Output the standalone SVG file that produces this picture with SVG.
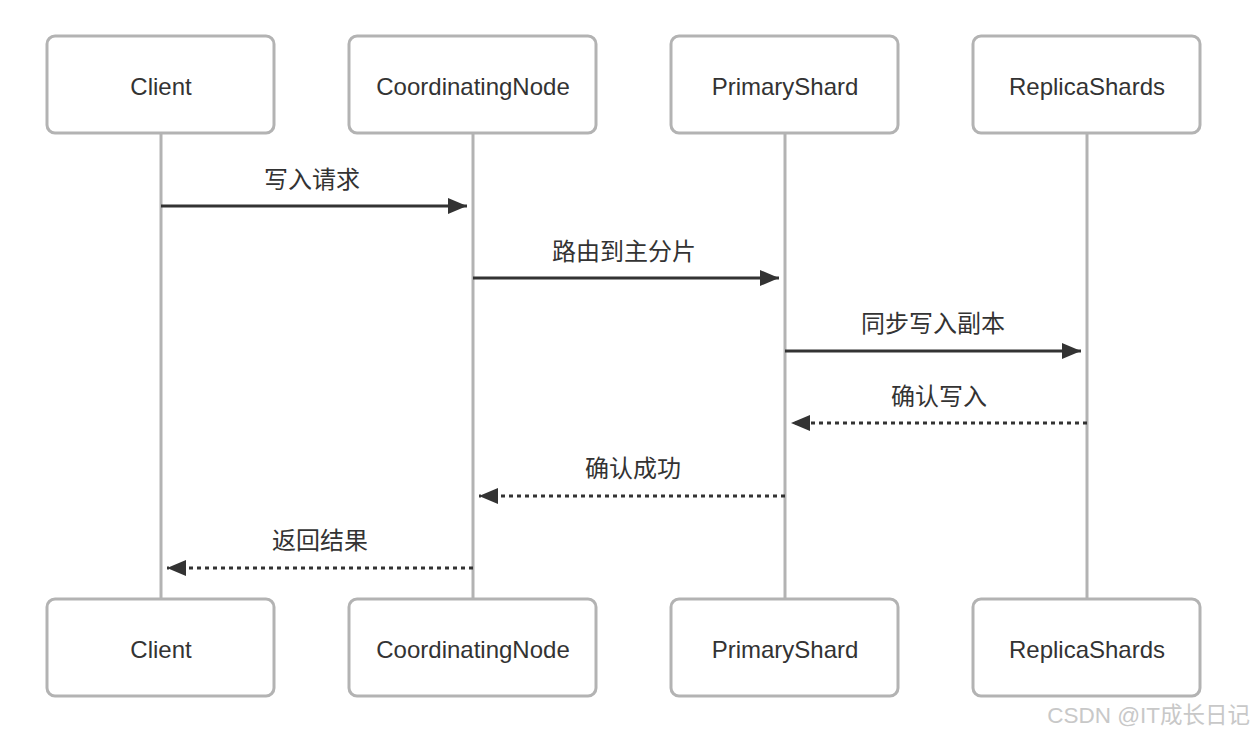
<svg xmlns="http://www.w3.org/2000/svg" width="1256" height="736" viewBox="0 0 1256 736">
<style>
.box{fill:#fff;stroke:#b3b3b3;stroke-width:3}
.life{stroke:#b3b3b3;stroke-width:3}
.lbl{font-family:"Liberation Sans","Noto Sans CJK SC",Arial,sans-serif;font-size:24px;fill:#333;text-anchor:middle;dominant-baseline:central}
.msg{font-family:"Liberation Sans","Noto Sans CJK SC",Arial,sans-serif;font-size:24px;fill:#333;text-anchor:middle}
.solid{stroke:#333;stroke-width:3;fill:none}
.dash{stroke:#333;stroke-width:3;fill:none;stroke-dasharray:4,4}
.wm{font-family:"Liberation Sans","Noto Sans CJK SC",sans-serif;font-size:22.5px;fill:#c8c8c8;text-anchor:end}
</style>
<defs>
<marker id="ah" viewBox="0 0 19 16" refX="19" refY="8" markerWidth="19" markerHeight="16" markerUnits="userSpaceOnUse" orient="auto">
<path d="M0,0 L19,8 L0,16 Z" fill="#333"/>
</marker>
</defs>
<g id="lifelines">
<line class="life" x1="161" y1="133" x2="161" y2="599"/>
<line class="life" x1="473" y1="133" x2="473" y2="599"/>
<line class="life" x1="785" y1="133" x2="785" y2="599"/>
<line class="life" x1="1087" y1="133" x2="1087" y2="599"/>
</g>
<g id="client-top"><rect class="box" x="47" y="36" width="227" height="97" rx="8"/><text class="lbl" x="161" y="86">Client</text></g>
<g id="coord-top"><rect class="box" x="349" y="36" width="247" height="97" rx="8"/><text class="lbl" x="473" y="86">CoordinatingNode</text></g>
<g id="primary-top"><rect class="box" x="671" y="36" width="227" height="97" rx="8"/><text class="lbl" x="785" y="86">PrimaryShard</text></g>
<g id="replica-top"><rect class="box" x="973" y="36" width="227" height="97" rx="8"/><text class="lbl" x="1087" y="86">ReplicaShards</text></g>
<g id="client-bottom"><rect class="box" x="47" y="599" width="227" height="97" rx="8"/><text class="lbl" x="161" y="649">Client</text></g>
<g id="coord-bottom"><rect class="box" x="349" y="599" width="247" height="97" rx="8"/><text class="lbl" x="473" y="649">CoordinatingNode</text></g>
<g id="primary-bottom"><rect class="box" x="671" y="599" width="227" height="97" rx="8"/><text class="lbl" x="785" y="649">PrimaryShard</text></g>
<g id="replica-bottom"><rect class="box" x="973" y="599" width="227" height="97" rx="8"/><text class="lbl" x="1087" y="649">ReplicaShards</text></g>
<g id="connectors">
<line class="solid" x1="161" y1="206" x2="467" y2="206" marker-end="url(#ah)"/>
<line class="solid" x1="473" y1="278" x2="779" y2="278" marker-end="url(#ah)"/>
<line class="solid" x1="785" y1="351" x2="1081" y2="351" marker-end="url(#ah)"/>
<line class="dash" x1="1087" y1="423" x2="791" y2="423" marker-end="url(#ah)"/>
<line class="dash" x1="785" y1="496" x2="479" y2="496" marker-end="url(#ah)"/>
<line class="dash" x1="473" y1="568" x2="167" y2="568" marker-end="url(#ah)"/>
<text class="msg" x="312" y="188">写入请求</text>
<text class="msg" x="624" y="260">路由到主分片</text>
<text class="msg" x="933" y="332">同步写入副本</text>
<text class="msg" x="939" y="405">确认写入</text>
<text class="msg" x="633" y="477">确认成功</text>
<text class="msg" x="320" y="549">返回结果</text>
</g>
<text class="wm" x="1250" y="723">CSDN @IT成长日记</text>
</svg>
